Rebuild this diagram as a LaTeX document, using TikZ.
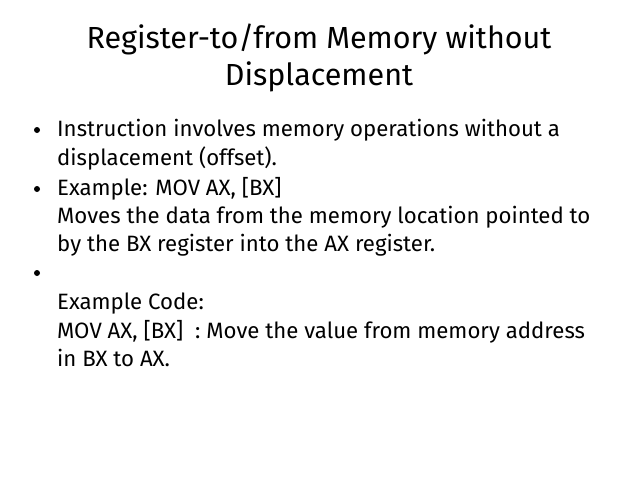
\documentclass[tikz,border=0pt]{standalone}
\usepackage{fontspec}
\setmainfont{Fira Sans}
\tikzset{title/.style={anchor=base,font=\fontsize{30.5}{32}\selectfont,inner sep=0},
body/.style={anchor=base west,font=\fontsize{22.2}{24}\selectfont,inner sep=0},
dot/.style={circle,fill=black,inner sep=0,minimum size=6pt}}
\begin{document}
\begin{tikzpicture}[x=1pt,y=-1pt]
\useasboundingbox (0,0) rectangle (638,479);
\node[title] (t1) at (319,48) {Register-to/from Memory without};
\node[title] (t2) at (319,85) {Displacement};
\node[dot] (d1) at (37,130) {};
\node[dot] (d2) at (37,189) {};
\node[dot] (d3) at (37,273) {};
\node[body] (l1) at (57,136) {Instruction involves memory operations without a};
\node[body] (l2) at (57,165) {displacement (offset).};
\node[body] (l3) at (57,195) {Example: MOV AX, [BX]};
\node[body] (l4) at (57,223) {Moves the data from the memory location pointed to};
\node[body] (l5) at (57,251) {by the BX register into the AX register.};
\node[body] (l6) at (57,309) {Example Code:};
\node[body] (l7) at (57,338) {MOV AX, [BX] \ : Move the value from memory address};
\node[body] (l8) at (57,366) {in BX to AX.};
\end{tikzpicture}
\end{document}
